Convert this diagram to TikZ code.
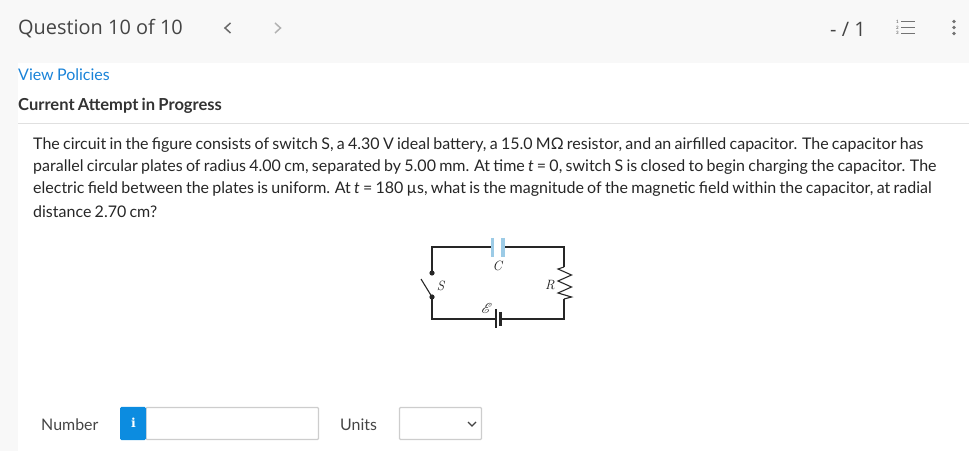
\documentclass[tikz,border=0pt]{standalone}
\usepackage{fontspec}
\usepackage{mathrsfs}
\setmainfont[WordSpace=0.8]{Lato}
\newfontfamily\headfont{Open Sans}
\newfontfamily\infofont{DejaVu Serif}
\definecolor{pagegrey}{HTML}{F8F8F8}
\definecolor{linkblue}{HTML}{1A83D8}
\definecolor{infoblue}{HTML}{0C8CE0}
\definecolor{boxgrey}{HTML}{CDCDCD}
\definecolor{inkgrey}{HTML}{444444}
\definecolor{platecol}{HTML}{9CCBE6}
\tikzset{
  bodyline/.style={anchor=west, inner sep=0pt, text=black!85, font=\fontsize{16.05}{18}\selectfont},
  formtext/.style={anchor=west, inner sep=0pt, text=inkgrey, font=\fontsize{16}{18}\selectfont},
  formbox/.style={draw=boxgrey, line width=1.2pt, rounded corners=1pt, fill=white},
  wire/.style={line width=1.1pt, black!85},
  tag/.style={inner sep=0pt, text=black!90, font=\fontfamily{lmr}\fontsize{13.5}{14}\selectfont},
  chevron/.style={line width=1.5pt}
}
\begin{document}
\begin{tikzpicture}[x=1bp,y=-1bp]
	\useasboundingbox (0,0) rectangle (969,451);
	\fill[pagegrey] (0,0) rectangle (969,63);
	\fill[pagegrey] (0,0) rectangle (18,451);
	
	% top bar
	\node[formtext, text=inkgrey, font=\headfont\fontsize{20}{22}\selectfont] (head) at (18,29) {Question 10 of 10};
	\draw[chevron, inkgrey!80] (230.5,23) -- (225,28) -- (230.5,33);
	\draw[chevron, black!30] (275,23) -- (280.5,28) -- (275,33);
	\node[formtext, font=\headfont\fontsize{20}{22}\selectfont] (score) at (830,29) {- / 1};
	
	% list icon
	\foreach \y in {21.5,27.5,33.5} {
		\draw[line width=1.5pt, black!55] (901,\y) -- (915,\y);
	}
	\node[inner sep=0pt, text=black!55, font=\fontsize{4.5}{6}\selectfont\bfseries, align=center] (nums) at (897.5,27.5) {1\\[-0.6pt]2\\[-0.6pt]3};
	\foreach \y in {21.5,27.5,33.5} {
		\fill[black!55] (954,\y) circle (1.9);
	}
	
	\node[bodyline, text=linkblue] (policies) at (18,75) {View Policies};
	\node[bodyline, text=black!80, font=\fontsize{16.6}{18}\selectfont\bfseries] (attempt) at (18,105.5) {Current Attempt in Progress};
	\draw[black!12, line width=0.8pt] (18,123.5) -- (969,123.5);
	
	% question text
	\node[bodyline] (lineA) at (33,145) {The circuit in the figure consists of switch S, a 4.30 V ideal battery, a 15.0 MΩ resistor, and an airfilled capacitor. The capacitor has};
	\node[bodyline] (lineB) at (33,167) {parallel circular plates of radius 4.00 cm, separated by 5.00 mm. At time \textit{t} = 0, switch S is closed to begin charging the capacitor. The};
	\node[bodyline] (lineC) at (33,189) {electric field between the plates is uniform. At \textit{t} = 180 µs, what is the magnitude of the magnetic field within the capacitor, at radial};
	\node[bodyline] (lineD) at (33,212) {distance 2.70 cm?};
	
	% circuit
	\coordinate (topleft) at (432,247);
	\coordinate (topright) at (564,247);
	\coordinate (botleft) at (432,319);
	\coordinate (botright) at (564,319);
	\coordinate (contactT) at (432,273);
	\coordinate (contactB) at (432,297);
	\coordinate (armend) at (421,279);
	\coordinate (capL) at (492.5,247);
	\coordinate (capR) at (503,247);
	\coordinate (batL) at (496,319);
	\coordinate (batR) at (500.5,319);
	\coordinate (resT) at (564,267);
	\coordinate (resB) at (564,299);
	
	\draw[wire] (contactT) -- (topleft) -- (capL);
	\draw[wire] (capR) -- (topright) -- (resT);
	\draw[wire] (resT) -- (558,269) -- (571.5,275) -- (558,281) -- (571.5,287) -- (558,293) -- (571.5,297) -- (resB);
	\draw[wire] (resB) -- (botright) -- (batR);
	\draw[wire] (batL) -- (botleft) -- (contactB);
	\draw[wire] (contactB) -- (armend);
	\fill[black!85] (contactT) circle (2.6);
	\fill[black!85] (contactB) circle (2.6);
	
	\draw[platecol, line width=3.2pt] (492.5,238) -- (492.5,257);
	\draw[platecol, line width=3.2pt] (503,238) -- (503,257);
	\draw[black!85, line width=1.1pt] (496,309) -- (496,328);
	\draw[black!85, line width=2.4pt] (500.5,312) -- (500.5,326);
	
	\node[tag] (labS) at (441,286) {\textit{S}};
	\node[tag] (labC) at (498,266) {\textit{C}};
	\node[tag] (labR) at (550,285) {\textit{R}};
	\node[tag] (labE) at (487,308) {$\mathscr{E}$};
	
	% answer row
	\node[formtext] (number) at (41,425) {Number};
	\draw[formbox] (146,407.5) rectangle (318.5,439.5);
	\fill[infoblue, rounded corners=1.5pt] (120,407) rectangle (146,440);
	\node[inner sep=0pt, text=white, font=\infofont\fontsize{12.5}{14}\bfseries\selectfont] (info) at (133.5,423) {i};
	\node[formtext] (units) at (340,425) {Units};
	\draw[formbox] (399.5,407.5) rectangle (481.5,439.5);
	\draw[inkgrey, line width=1.4pt] (468,422) -- (472,426) -- (476,422);
\end{tikzpicture}
\end{document}
